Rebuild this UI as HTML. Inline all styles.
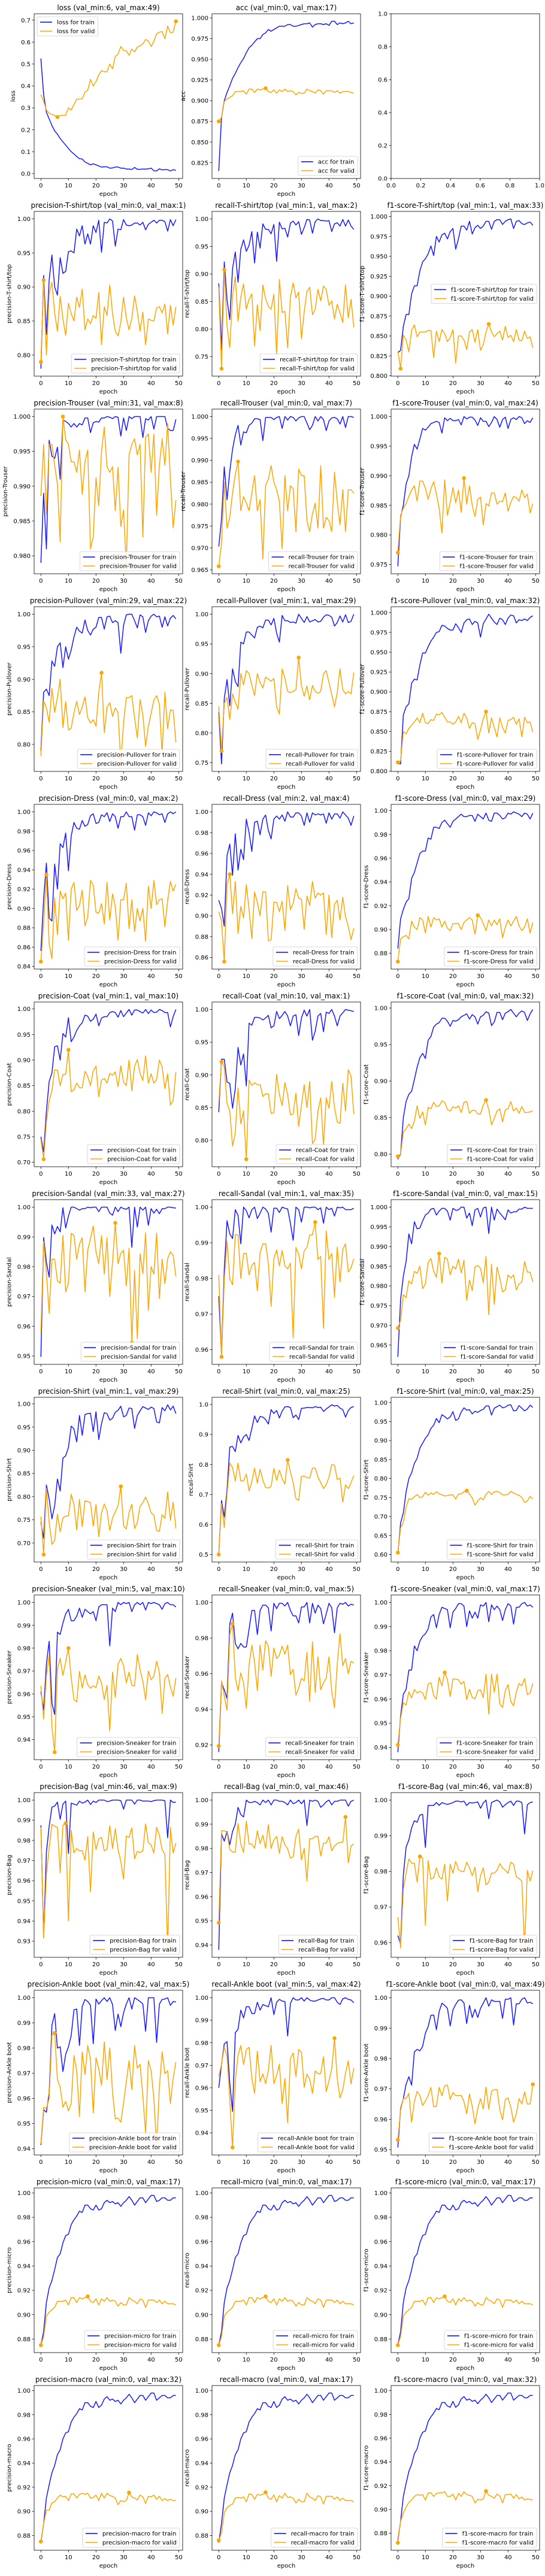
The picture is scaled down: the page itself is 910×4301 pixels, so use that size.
<!DOCTYPE html>
<html><head><meta charset="utf-8"><title>Training metrics</title>
<style>
html,body{margin:0;padding:0;background:#fff;}
svg{display:block;font-family:"DejaVu Sans","Liberation Sans",sans-serif;}
</style></head>
<body>
<svg id="fig" width="910" height="4301" viewBox="0 0 910 4301" xmlns="http://www.w3.org/2000/svg"></svg>
<script>
const epochsCount = 50;
const lossTrain=[0.525,0.36,0.28,0.25,0.22,0.195,0.18,0.16,0.145,0.13,0.115,0.1,0.09,0.078,0.068,0.067,0.053,0.047,0.04,0.045,0.04,0.035,0.03,0.031,0.031,0.025,0.026,0.03,0.03,0.025,0.025,0.021,0.021,0.019,0.028,0.02,0.02,0.021,0.021,0.022,0.025,0.013,0.012,0.022,0.017,0.018,0.018,0.012,0.018,0.015];
const lossValid=[0.36,0.33,0.29,0.275,0.27,0.265,0.258,0.265,0.266,0.266,0.3,0.29,0.315,0.34,0.34,0.342,0.372,0.38,0.43,0.4,0.42,0.45,0.47,0.465,0.465,0.5,0.478,0.535,0.545,0.58,0.562,0.56,0.54,0.568,0.555,0.578,0.582,0.592,0.612,0.605,0.58,0.603,0.638,0.645,0.648,0.615,0.673,0.643,0.645,0.695];
const accTrain=[0.815,0.88,0.9,0.91,0.918,0.927,0.933,0.94,0.946,0.951,0.958,0.964,0.967,0.971,0.975,0.975,0.98,0.982,0.986,0.984,0.986,0.988,0.99,0.99,0.99,0.992,0.992,0.99,0.99,0.991,0.992,0.993,0.993,0.994,0.989,0.992,0.993,0.993,0.992,0.993,0.991,0.996,0.996,0.992,0.994,0.993,0.994,0.996,0.993,0.994];
const accValid=[0.875,0.88,0.899,0.902,0.904,0.906,0.911,0.911,0.911,0.912,0.908,0.914,0.914,0.91,0.914,0.913,0.914,0.915,0.911,0.91,0.913,0.909,0.913,0.911,0.914,0.911,0.912,0.911,0.907,0.91,0.909,0.909,0.914,0.912,0.911,0.909,0.913,0.912,0.908,0.912,0.912,0.912,0.91,0.912,0.909,0.911,0.911,0.911,0.91,0.909];
const precTshirtTrain=[0.78,0.917,0.83,0.91,0.947,0.9,0.888,0.943,0.92,0.923,0.952,0.953,0.95,0.985,0.975,0.99,0.963,0.978,0.963,0.99,0.98,0.998,0.951,0.995,0.994,1.0,0.997,0.96,0.985,0.984,0.999,0.991,0.99,0.991,0.994,0.994,0.991,0.995,0.984,0.992,0.995,0.998,0.994,0.998,0.998,0.996,0.982,0.999,0.99,0.999];
const precTshirtValid=[0.79,0.91,0.8,0.89,0.907,0.862,0.835,0.886,0.853,0.829,0.876,0.861,0.85,0.885,0.87,0.897,0.837,0.853,0.846,0.858,0.854,0.892,0.815,0.871,0.858,0.903,0.861,0.835,0.828,0.848,0.885,0.855,0.837,0.854,0.887,0.864,0.835,0.863,0.815,0.853,0.851,0.85,0.869,0.871,0.862,0.875,0.831,0.873,0.844,0.871];
const recTshirtTrain=[0.883,0.762,0.922,0.853,0.817,0.91,0.94,0.885,0.945,0.962,0.941,0.952,0.977,0.92,0.976,0.947,0.991,0.981,0.981,0.973,0.99,0.923,0.994,0.982,0.983,0.967,0.992,0.996,0.989,0.995,0.972,0.984,0.999,0.998,0.974,0.995,1.0,0.997,0.997,0.996,0.997,0.977,0.991,0.993,0.987,0.999,0.987,0.998,0.987,0.981];
const recTshirtValid=[0.876,0.728,0.908,0.805,0.766,0.86,0.895,0.814,0.858,0.882,0.836,0.854,0.864,0.769,0.844,0.797,0.88,0.855,0.841,0.836,0.863,0.754,0.89,0.83,0.832,0.766,0.857,0.884,0.857,0.867,0.782,0.831,0.868,0.876,0.826,0.836,0.872,0.851,0.878,0.872,0.843,0.851,0.818,0.845,0.829,0.812,0.88,0.82,0.854,0.803];
const f1TshirtTrain=[0.829,0.832,0.862,0.877,0.877,0.903,0.913,0.913,0.932,0.943,0.947,0.953,0.963,0.951,0.975,0.968,0.977,0.979,0.972,0.981,0.985,0.959,0.972,0.988,0.988,0.983,0.994,0.978,0.986,0.989,0.985,0.988,0.994,0.994,0.984,0.994,0.996,0.996,0.99,0.994,0.996,0.997,0.985,0.994,0.995,0.991,0.99,0.992,0.993,0.989];
const f1TshirtValid=[0.831,0.809,0.851,0.845,0.83,0.857,0.864,0.849,0.855,0.855,0.855,0.857,0.857,0.823,0.856,0.843,0.858,0.853,0.843,0.848,0.858,0.816,0.85,0.85,0.845,0.833,0.855,0.858,0.842,0.858,0.832,0.839,0.855,0.865,0.855,0.849,0.853,0.856,0.845,0.862,0.848,0.851,0.843,0.858,0.845,0.844,0.856,0.847,0.849,0.835];
const precTrouserTrain=[0.979,0.989,0.981,0.9966,0.9943,0.994,0.9956,0.991,0.9995,0.9993,0.999,0.9985,0.999,0.9985,0.999,0.9988,0.9998,0.9998,0.9977,0.9991,0.9993,0.9992,0.9998,0.9998,1.0,0.9999,0.9997,1.0,0.9999,0.9972,0.9998,0.998,1.0,0.9997,1.0,1.0,1.0,0.997,0.9997,0.9995,1.0,0.9982,1.0,1.0,1.0,1.0,0.9983,0.998,0.998,0.9996];
const precTrouserValid=[0.9886,0.996,0.986,0.996,0.996,0.993,0.9903,0.982,1.0,0.9967,0.996,0.9935,0.9935,0.992,0.9952,0.9888,0.9935,0.9952,0.981,0.9827,0.9912,0.9872,0.995,0.9985,0.9928,0.992,0.9928,0.9865,0.9927,0.9842,0.9866,0.9785,0.9945,0.996,0.9968,0.9945,0.996,0.9827,0.997,0.9975,0.992,0.9975,0.9858,0.993,0.9968,0.993,0.999,0.991,0.984,0.988];
const recTrouserTrain=[0.9703,0.9765,0.9885,0.981,0.9875,0.9925,0.9958,0.998,0.9935,0.9965,0.9963,0.998,0.9985,0.9995,0.9995,0.9993,0.9945,0.9998,0.9998,0.9998,0.9993,0.9998,1.0,0.9973,1.0,0.9992,1.0,0.9998,0.999,0.9997,1.0,1.0,0.9985,0.997,0.998,1.0,0.999,1.0,0.9993,0.9968,0.999,0.9997,0.9998,0.9995,0.9983,1.0,0.9975,1.0,1.0,0.9998];
const recTrouserValid=[0.9658,0.971,0.985,0.9745,0.977,0.9825,0.9868,0.9897,0.9785,0.9817,0.9803,0.9785,0.9825,0.9865,0.9785,0.981,0.9675,0.9843,0.9857,0.9888,0.985,0.9833,0.9807,0.9698,0.9865,0.9785,0.9842,0.9835,0.9737,0.988,0.9865,0.9865,0.9762,0.9737,0.9778,0.9802,0.9745,0.9888,0.9745,0.977,0.9762,0.9737,0.9873,0.9805,0.9753,0.9833,0.9737,0.9833,0.9833,0.9825];
const f1TrouserTrain=[0.9747,0.983,0.985,0.9886,0.99,0.9932,0.9953,0.9945,0.9962,0.998,0.9977,0.9982,0.9988,0.999,0.9992,0.999,0.9972,0.9998,0.9993,0.9997,0.9993,0.9993,0.9995,0.9986,1.0,0.9996,0.9999,0.9999,0.9994,0.9985,0.9998,0.9992,0.9992,0.9983,0.999,1.0,0.9995,0.9982,0.9995,0.9999,0.998,0.9995,0.9998,0.9995,1.0,0.9998,0.9988,0.9993,0.999,0.9998];
const f1TrouserValid=[0.977,0.9833,0.9845,0.9853,0.9865,0.9876,0.9883,0.9857,0.9891,0.9891,0.9879,0.986,0.9878,0.989,0.9869,0.9845,0.9803,0.9893,0.9833,0.9855,0.988,0.9854,0.9876,0.9838,0.9896,0.9852,0.9883,0.985,0.9831,0.986,0.9864,0.9817,0.9853,0.9849,0.9871,0.9871,0.9852,0.9857,0.9856,0.9871,0.984,0.9855,0.9865,0.9863,0.9857,0.9876,0.9863,0.9869,0.9837,0.9853];
const precPulloverTrain=[0.79,0.88,0.885,0.875,0.928,0.92,0.95,0.956,0.918,0.95,0.931,0.945,0.965,0.98,0.974,0.971,0.991,0.975,0.968,0.977,0.98,0.995,0.995,0.977,0.996,0.997,0.987,0.99,0.987,0.94,0.983,0.999,1.0,1.0,0.99,0.979,0.999,0.996,0.972,0.99,0.997,1.0,0.996,0.997,0.98,0.996,0.982,0.994,0.998,0.993];
const precPulloverValid=[0.782,0.867,0.856,0.834,0.886,0.849,0.872,0.9,0.826,0.866,0.822,0.825,0.849,0.866,0.846,0.857,0.873,0.841,0.833,0.838,0.828,0.88,0.91,0.818,0.857,0.864,0.843,0.856,0.849,0.77,0.833,0.872,0.872,0.875,0.841,0.81,0.869,0.845,0.797,0.828,0.848,0.868,0.875,0.862,0.785,0.88,0.824,0.853,0.852,0.803];
const recPulloverTrain=[0.835,0.748,0.858,0.89,0.846,0.908,0.887,0.878,0.953,0.95,0.97,0.97,0.965,0.96,0.978,0.98,0.977,0.99,0.99,0.982,0.993,0.968,0.953,0.998,0.989,0.989,0.986,0.987,0.985,1.0,0.993,0.986,0.996,0.987,0.989,0.991,0.987,0.988,0.995,0.999,0.998,0.995,0.98,0.986,0.997,0.987,0.999,0.986,0.988,1.0];
const recPulloverValid=[0.845,0.77,0.85,0.86,0.823,0.866,0.852,0.84,0.9,0.881,0.905,0.9,0.881,0.863,0.9,0.885,0.876,0.894,0.891,0.887,0.892,0.844,0.832,0.908,0.892,0.87,0.868,0.87,0.873,0.927,0.88,0.862,0.879,0.856,0.88,0.87,0.867,0.87,0.9,0.905,0.885,0.865,0.844,0.868,0.908,0.873,0.866,0.87,0.866,0.902];
const f1PulloverTrain=[0.81,0.809,0.871,0.881,0.885,0.911,0.916,0.915,0.934,0.949,0.949,0.957,0.964,0.969,0.975,0.976,0.984,0.983,0.98,0.978,0.978,0.986,0.981,0.975,0.987,0.991,0.992,0.985,0.989,0.987,0.969,0.986,0.992,0.998,0.993,0.988,0.985,0.993,0.991,0.985,0.993,0.997,0.996,0.987,0.991,0.99,0.992,0.99,0.994,0.996];
const f1PulloverValid=[0.811,0.813,0.85,0.847,0.854,0.858,0.862,0.867,0.861,0.873,0.861,0.86,0.865,0.864,0.872,0.871,0.874,0.868,0.862,0.862,0.859,0.862,0.869,0.861,0.873,0.867,0.854,0.861,0.86,0.84,0.852,0.866,0.875,0.848,0.867,0.855,0.843,0.867,0.855,0.848,0.864,0.865,0.868,0.859,0.866,0.843,0.868,0.861,0.862,0.849];
const precDressTrain=[0.856,0.91,0.947,0.89,0.887,0.946,0.92,0.967,0.963,0.978,0.939,0.975,0.989,0.983,0.982,0.991,0.985,0.987,0.996,0.998,0.988,0.989,0.997,0.995,0.999,0.99,0.998,0.995,0.983,0.995,0.995,1.0,0.995,0.995,0.981,0.997,0.997,0.995,0.986,0.999,0.996,1.0,0.999,0.997,0.998,0.989,0.998,1.0,0.998,1.0];
const precDressValid=[0.845,0.885,0.935,0.863,0.848,0.911,0.873,0.918,0.91,0.916,0.867,0.92,0.927,0.898,0.903,0.919,0.882,0.891,0.929,0.924,0.896,0.895,0.905,0.884,0.927,0.888,0.915,0.902,0.867,0.909,0.909,0.926,0.879,0.909,0.876,0.9,0.887,0.9,0.866,0.923,0.9,0.929,0.904,0.909,0.91,0.881,0.908,0.928,0.918,0.925];
const recDressTrain=[0.915,0.907,0.89,0.958,0.969,0.939,0.979,0.944,0.964,0.954,0.993,0.98,0.962,0.99,0.991,0.978,0.993,0.997,0.982,0.974,0.993,0.996,0.993,0.997,0.991,1.0,0.995,0.995,0.999,0.999,0.996,0.987,0.999,0.99,0.999,0.997,0.998,0.997,0.998,0.989,0.999,0.993,0.998,0.998,0.994,1.0,0.997,0.994,0.987,0.996];
const recDressValid=[0.904,0.895,0.856,0.93,0.94,0.902,0.933,0.883,0.909,0.898,0.93,0.906,0.878,0.923,0.913,0.9,0.923,0.923,0.876,0.877,0.913,0.913,0.904,0.914,0.886,0.929,0.906,0.912,0.926,0.917,0.916,0.887,0.919,0.91,0.933,0.917,0.922,0.92,0.922,0.882,0.92,0.879,0.911,0.915,0.896,0.918,0.899,0.89,0.877,0.888];
const f1DressTrain=[0.884,0.909,0.917,0.923,0.926,0.943,0.948,0.956,0.964,0.966,0.966,0.977,0.976,0.986,0.986,0.985,0.99,0.992,0.989,0.986,0.991,0.993,0.995,0.997,0.995,0.995,0.996,0.996,0.991,0.997,0.995,0.993,0.998,0.992,0.991,0.998,0.998,0.996,0.993,0.994,0.998,0.997,0.999,0.998,0.997,0.995,0.998,0.997,0.993,0.998];
const f1DressValid=[0.873,0.892,0.894,0.895,0.892,0.907,0.902,0.9,0.91,0.908,0.897,0.911,0.902,0.91,0.908,0.909,0.902,0.907,0.901,0.899,0.905,0.905,0.905,0.9,0.906,0.908,0.91,0.908,0.896,0.912,0.91,0.905,0.899,0.908,0.903,0.908,0.904,0.909,0.893,0.902,0.908,0.903,0.907,0.911,0.903,0.899,0.902,0.909,0.897,0.906];
const precCoatTrain=[0.75,0.72,0.8,0.858,0.875,0.926,0.928,0.9,0.952,0.945,0.983,0.936,0.945,0.958,0.967,0.973,0.988,0.986,0.976,0.98,0.99,0.967,0.982,0.985,0.985,0.993,0.995,0.993,0.984,0.997,0.985,0.992,0.999,0.988,0.998,0.998,0.995,0.992,0.999,0.991,0.998,0.993,0.994,0.999,0.997,0.993,0.993,0.965,0.985,0.999];
const precCoatValid=[0.745,0.706,0.78,0.82,0.84,0.881,0.88,0.85,0.872,0.872,0.92,0.838,0.842,0.855,0.846,0.846,0.878,0.868,0.85,0.879,0.888,0.828,0.861,0.864,0.855,0.874,0.87,0.877,0.848,0.889,0.857,0.85,0.9,0.84,0.888,0.901,0.874,0.86,0.908,0.855,0.873,0.855,0.862,0.9,0.887,0.844,0.873,0.812,0.821,0.877];
const recCoatTrain=[0.843,0.924,0.924,0.889,0.887,0.849,0.879,0.942,0.915,0.932,0.883,0.979,0.976,0.988,0.988,0.987,0.984,0.987,0.991,0.972,0.975,0.997,0.986,0.991,0.997,0.99,0.975,0.99,0.992,0.96,0.987,0.999,0.99,1.0,0.953,0.967,0.99,0.994,0.966,0.996,0.994,1.0,0.99,0.975,0.99,0.995,1.0,0.999,0.998,0.997];
const recCoatValid=[0.857,0.92,0.912,0.856,0.845,0.791,0.811,0.88,0.825,0.845,0.771,0.892,0.884,0.888,0.885,0.885,0.867,0.871,0.871,0.841,0.842,0.901,0.87,0.853,0.888,0.87,0.839,0.84,0.872,0.821,0.853,0.885,0.85,0.89,0.795,0.802,0.845,0.865,0.792,0.865,0.849,0.89,0.85,0.828,0.826,0.887,0.845,0.908,0.898,0.84];
const f1CoatTrain=[0.793,0.8,0.85,0.872,0.882,0.886,0.902,0.919,0.932,0.938,0.931,0.956,0.961,0.974,0.978,0.98,0.986,0.986,0.982,0.975,0.983,0.982,0.984,0.988,0.99,0.992,0.985,0.991,0.988,0.978,0.988,0.99,0.995,0.993,0.976,0.981,0.994,0.994,0.984,0.993,0.995,0.998,0.993,0.988,0.993,0.996,0.994,0.983,0.992,0.998];
const f1CoatValid=[0.797,0.8,0.83,0.835,0.841,0.835,0.845,0.866,0.849,0.858,0.84,0.864,0.862,0.871,0.865,0.866,0.873,0.871,0.861,0.859,0.865,0.863,0.866,0.857,0.871,0.872,0.856,0.86,0.86,0.855,0.855,0.867,0.874,0.861,0.84,0.849,0.859,0.862,0.844,0.861,0.862,0.872,0.859,0.863,0.856,0.865,0.857,0.857,0.858,0.859];
const precSandalTrain=[0.9497,0.9898,0.9815,0.9765,0.994,0.991,0.9935,0.9917,0.9998,0.993,0.997,1.0,1.0,0.9995,0.999,0.9995,0.9995,1.0,0.9998,1.0,1.0,0.9985,1.0,1.0,1.0,0.998,0.9973,1.0,0.9985,1.0,0.9995,0.9993,1.0,0.9865,1.0,0.9933,1.0,0.999,1.0,0.9939,0.9995,0.998,0.9993,0.9978,0.9995,0.9995,1.0,1.0,0.9998,0.9997];
const precSandalValid=[0.958,0.9885,0.978,0.9643,0.9825,0.9825,0.9752,0.9745,0.9905,0.9715,0.9745,0.9912,0.9905,0.9825,0.9875,0.9897,0.9715,0.9855,0.9895,0.9937,0.985,0.981,0.9905,0.9775,0.9897,0.97,0.9815,0.9947,0.981,0.9845,0.9855,0.9735,0.9862,0.9545,0.9787,0.9558,0.9843,0.9777,0.9913,0.9653,0.98,0.9775,0.9913,0.9693,0.9825,0.9743,0.9827,0.985,0.9838,0.9767];
const recSandalTrain=[0.975,0.9585,0.9825,0.9962,0.9925,0.9912,0.9993,0.9977,0.9897,1.0,0.999,0.997,0.9993,1.0,0.9968,0.9983,1.0,0.9995,0.9983,0.993,0.9997,0.9997,0.9985,1.0,0.9997,0.9995,0.9955,0.9907,1.0,0.9993,0.9958,1.0,1.0,0.9998,1.0,1.0,0.9993,0.9998,0.9955,1.0,0.9993,0.9997,0.9975,1.0,0.9998,1.0,0.9993,0.9993,0.9993,0.9997];
const recSandalValid=[0.981,0.958,0.9795,0.9905,0.98,0.9782,0.9923,0.9922,0.98,0.987,0.987,0.981,0.9837,0.9845,0.9765,0.9873,0.9897,0.9897,0.9842,0.9722,0.9855,0.988,0.9835,0.9878,0.9835,0.9827,0.9843,0.9633,0.9887,0.9868,0.9827,0.9878,0.9887,0.9922,0.9922,0.9958,0.9853,0.9862,0.966,0.9933,0.9853,0.987,0.9747,0.9888,0.979,0.9882,0.9897,0.9818,0.983,0.9855];
const f1SandalTrain=[0.962,0.9765,0.9825,0.9862,0.9932,0.9907,0.9963,0.9945,0.9947,0.9965,0.998,0.9985,0.9995,0.9997,0.998,0.999,0.9997,0.9997,0.999,0.9967,0.9997,0.9992,0.9993,1.0,1.0,0.9972,0.9985,0.9953,0.9993,0.9997,0.9975,0.9998,1.0,0.9933,1.0,0.9967,0.9995,0.9985,0.9977,0.9968,0.9993,0.9985,0.9988,0.9988,0.9995,0.9995,1.0,0.9997,0.9997,0.9997];
const f1SandalValid=[0.9693,0.9713,0.9778,0.977,0.9813,0.9805,0.9837,0.9832,0.985,0.9793,0.9805,0.986,0.987,0.9837,0.9822,0.9882,0.9807,0.9873,0.9868,0.9828,0.985,0.9843,0.9868,0.9833,0.9865,0.9763,0.9815,0.9788,0.9848,0.9852,0.9845,0.9808,0.9875,0.9727,0.9855,0.9753,0.9848,0.982,0.9785,0.979,0.9828,0.982,0.9828,0.979,0.9805,0.981,0.9862,0.9835,0.9835,0.981];
const precShirtTrain=[0.745,0.71,0.825,0.795,0.752,0.78,0.838,0.812,0.883,0.888,0.906,0.952,0.946,0.918,0.975,0.932,0.977,0.979,0.98,0.94,0.983,0.923,0.957,0.981,0.979,0.965,0.969,0.982,0.986,0.995,0.972,0.975,0.991,0.99,0.947,0.975,0.985,0.994,0.991,0.988,0.993,0.99,0.961,0.959,0.992,0.985,0.998,0.987,0.995,0.979];
const precShirtValid=[0.757,0.675,0.818,0.745,0.697,0.705,0.762,0.724,0.754,0.758,0.758,0.805,0.783,0.728,0.794,0.735,0.791,0.789,0.787,0.736,0.783,0.713,0.765,0.784,0.769,0.727,0.754,0.767,0.78,0.822,0.737,0.73,0.766,0.783,0.731,0.744,0.779,0.787,0.799,0.785,0.765,0.76,0.727,0.725,0.761,0.753,0.81,0.749,0.788,0.731];
const recShirtTrain=[0.5,0.68,0.625,0.715,0.858,0.86,0.843,0.897,0.872,0.892,0.9,0.88,0.92,0.962,0.94,0.96,0.958,0.95,0.935,0.983,0.97,0.98,0.955,0.978,0.992,0.993,0.99,0.956,0.965,0.95,0.987,0.988,0.99,0.99,0.989,0.993,0.99,0.991,0.977,0.985,0.992,0.999,0.995,0.997,0.988,0.983,0.958,0.98,0.99,0.993];
const recShirtValid=[0.5,0.67,0.59,0.7,0.805,0.79,0.745,0.805,0.745,0.746,0.768,0.712,0.742,0.788,0.738,0.784,0.748,0.723,0.722,0.727,0.787,0.747,0.781,0.752,0.735,0.815,0.775,0.74,0.686,0.68,0.76,0.762,0.756,0.755,0.788,0.788,0.758,0.74,0.72,0.733,0.758,0.8,0.798,0.75,0.755,0.675,0.732,0.72,0.74,0.763];
const f1ShirtTrain=[0.6,0.683,0.71,0.765,0.8,0.815,0.84,0.853,0.88,0.893,0.906,0.915,0.932,0.94,0.958,0.947,0.968,0.963,0.957,0.962,0.976,0.953,0.957,0.975,0.986,0.98,0.981,0.97,0.977,0.974,0.979,0.982,0.991,0.991,0.967,0.985,0.989,0.993,0.986,0.988,0.993,0.994,0.978,0.979,0.992,0.985,0.978,0.983,0.993,0.987];
const f1ShirtValid=[0.605,0.67,0.685,0.725,0.747,0.745,0.752,0.758,0.75,0.752,0.764,0.756,0.762,0.758,0.765,0.76,0.757,0.754,0.755,0.757,0.757,0.746,0.759,0.76,0.765,0.768,0.759,0.749,0.73,0.741,0.749,0.744,0.758,0.766,0.758,0.765,0.766,0.763,0.757,0.757,0.758,0.766,0.762,0.758,0.756,0.75,0.737,0.741,0.753,0.746];
const precSneakerTrain=[0.961,0.953,0.973,0.983,0.956,0.951,0.987,0.986,0.991,0.995,0.997,0.992,0.992,0.994,0.9975,0.9935,0.997,0.996,0.995,0.996,0.992,0.998,0.999,0.999,0.999,0.981,0.9975,0.996,1.0,0.999,1.0,0.9995,1.0,0.996,0.999,1.0,0.999,1.0,0.9967,1.0,0.9995,1.0,0.9995,0.999,0.997,0.9995,1.0,0.999,0.999,0.998];
const precSneakerValid=[0.9635,0.949,0.968,0.977,0.9455,0.9345,0.971,0.9755,0.968,0.974,0.98,0.967,0.9575,0.9565,0.9698,0.9625,0.9683,0.964,0.9625,0.9635,0.9627,0.9677,0.9648,0.9575,0.9637,0.9438,0.9695,0.9585,0.973,0.9755,0.9722,0.9648,0.9695,0.9637,0.9635,0.9772,0.9705,0.9655,0.9575,0.97,0.9662,0.9678,0.9743,0.9695,0.9515,0.9668,0.9685,0.963,0.959,0.967];
const recSneakerTrain=[0.916,0.955,0.951,0.946,0.988,0.994,0.977,0.974,0.977,0.975,0.975,0.985,0.9955,0.9955,0.982,0.9955,0.9985,0.9985,0.997,0.984,0.9995,0.9965,0.9995,0.9995,0.998,1.0,0.9955,0.9925,0.9925,0.9885,0.9975,0.9975,1.0,0.9885,0.9995,0.994,0.9985,0.9965,0.988,0.9935,0.9995,0.997,0.983,0.997,0.9995,0.999,1.0,0.998,0.999,0.9985];
const recSneakerValid=[0.9195,0.956,0.9475,0.9395,0.982,0.988,0.958,0.9505,0.9605,0.955,0.9405,0.965,0.976,0.9665,0.9505,0.976,0.962,0.9785,0.9755,0.9585,0.9745,0.9685,0.9705,0.9755,0.971,0.976,0.9595,0.9625,0.948,0.952,0.9575,0.956,0.972,0.9445,0.978,0.9495,0.9695,0.951,0.955,0.9575,0.9695,0.95,0.941,0.9655,0.9825,0.9645,0.9685,0.96,0.967,0.966];
const f1SneakerTrain=[0.938,0.953,0.962,0.964,0.972,0.972,0.982,0.98,0.984,0.986,0.987,0.989,0.994,0.995,0.9895,0.995,0.998,0.9975,0.997,0.9895,0.996,0.9975,0.9995,0.9995,0.9985,0.99,0.9965,0.9935,0.996,0.9935,0.999,0.9985,1.0,0.992,0.999,0.997,0.9985,0.997,0.9925,0.997,0.9995,0.9985,0.991,0.998,0.998,0.9995,1.0,0.9985,0.999,0.998];
const f1SneakerValid=[0.941,0.952,0.9585,0.9575,0.963,0.9605,0.964,0.9625,0.9632,0.9625,0.9598,0.9662,0.9668,0.9615,0.96,0.969,0.9655,0.971,0.968,0.961,0.9683,0.9683,0.968,0.9662,0.9673,0.9598,0.964,0.9607,0.96,0.9635,0.9638,0.9605,0.9703,0.9538,0.9703,0.9628,0.9703,0.958,0.9565,0.9635,0.966,0.959,0.9572,0.963,0.9665,0.9655,0.9685,0.9618,0.9625,0.9665];
const precBagTrain=[0.9875,0.932,0.974,0.987,0.9965,0.997,0.999,0.9905,0.998,0.9995,0.9735,0.9985,0.998,0.9975,0.9995,0.9985,0.999,1.0,0.9978,0.9995,0.9988,1.0,1.0,1.0,0.9993,0.9995,1.0,1.0,1.0,0.9997,0.9955,1.0,1.0,1.0,0.998,1.0,1.0,0.9995,0.9995,0.9995,0.9993,0.9997,1.0,1.0,1.0,0.9997,0.9813,1.0,0.9988,0.999];
const precBagValid=[0.9865,0.9315,0.963,0.9765,0.988,0.987,0.9865,0.964,0.9875,0.9885,0.94,0.985,0.9738,0.976,0.9748,0.975,0.9702,0.9818,0.9543,0.9842,0.9755,0.9808,0.9815,0.9748,0.9757,0.9873,0.976,0.9858,0.9755,0.9695,0.9608,0.9822,0.9815,0.9862,0.9708,0.9745,0.974,0.9748,0.9882,0.9788,0.9778,0.9737,0.9865,0.9825,0.9755,0.973,0.9257,0.9865,0.9737,0.9787];
const recBagTrain=[0.938,0.986,0.983,0.987,0.9815,0.987,0.99,0.997,0.994,0.993,1.0,0.999,0.999,0.9995,0.999,0.998,1.0,0.999,1.0,0.998,1.0,1.0,0.9995,0.9995,0.999,0.998,1.0,0.9985,0.999,1.0,0.9985,1.0,0.9895,1.0,0.9995,1.0,0.9995,0.997,0.998,0.9993,1.0,0.998,0.9995,0.9995,1.0,1.0,1.0,0.9975,0.9995,1.0];
const recBagValid=[0.9492,0.9873,0.9873,0.9865,0.9795,0.9785,0.9785,0.9903,0.9818,0.9783,0.9912,0.9818,0.9818,0.98,0.9873,0.982,0.9855,0.98,0.9898,0.98,0.9835,0.985,0.978,0.9848,0.9815,0.9798,0.976,0.9765,0.985,0.988,0.9752,0.98,0.9665,0.984,0.984,0.985,0.985,0.9768,0.9822,0.9822,0.9848,0.979,0.981,0.982,0.9825,0.9825,0.993,0.974,0.981,0.9818];
const f1BagTrain=[0.962,0.9595,0.979,0.9868,0.9888,0.9922,0.9942,0.9938,0.9958,0.996,0.9867,0.9985,0.9985,0.9985,0.9993,0.9985,0.9993,0.999,0.9988,0.999,0.9993,0.9997,0.9997,0.9995,0.9997,0.9985,0.9993,0.9992,0.9993,0.9995,0.9977,0.9992,1.0,0.9948,0.9993,0.9997,1.0,0.9995,0.998,0.9987,0.9993,0.9997,0.9985,0.9997,0.9997,0.9993,0.9905,0.9987,0.9993,0.9995];
const f1BagValid=[0.9672,0.9585,0.975,0.9795,0.9835,0.9823,0.9823,0.977,0.9842,0.9838,0.9648,0.983,0.9778,0.9782,0.981,0.9785,0.9778,0.982,0.9717,0.982,0.9795,0.9828,0.9805,0.98,0.98,0.9826,0.981,0.9788,0.9812,0.9743,0.9788,0.981,0.9762,0.977,0.9795,0.9795,0.9803,0.9822,0.981,0.9803,0.9795,0.9826,0.982,0.9785,0.978,0.9773,0.958,0.9803,0.9773,0.9802];
const precAnkleTrain=[0.9415,0.9555,0.9545,0.962,0.989,0.9937,0.98,0.9805,0.9707,0.9775,0.9805,0.985,0.9952,0.9955,0.981,0.9965,0.9993,0.9985,0.997,0.9817,0.9995,0.9975,0.9988,1.0,0.9985,1.0,0.9973,0.987,0.9935,0.9885,0.994,0.9975,1.0,0.9955,1.0,0.9993,0.9985,0.9975,0.9867,1.0,1.0,1.0,0.9822,0.9975,0.9993,0.9995,1.0,0.997,0.9985,0.9983];
const precAnkleValid=[0.942,0.9565,0.956,0.96,0.985,0.986,0.9675,0.9645,0.9565,0.9588,0.955,0.958,0.977,0.971,0.9528,0.9785,0.9695,0.981,0.9755,0.9542,0.9762,0.9718,0.9652,0.9825,0.9675,0.98,0.9625,0.9518,0.9522,0.9505,0.9582,0.9665,0.975,0.9635,0.981,0.972,0.9735,0.961,0.946,0.975,0.971,0.96,0.9405,0.9645,0.9785,0.9698,0.971,0.958,0.968,0.9745];
const recAnkleTrain=[0.96,0.9705,0.9795,0.9805,0.962,0.9495,0.9845,0.986,0.9945,0.991,0.996,0.996,0.993,0.993,0.998,0.9945,0.997,0.9965,0.996,1.0,0.9925,0.998,0.9993,0.9985,0.9983,0.983,0.9975,1.0,0.999,0.999,1.0,0.9985,1.0,0.999,0.9985,0.9985,0.999,0.9995,0.9997,0.999,0.999,1.0,1.0,0.998,0.997,0.9995,1.0,0.9993,0.999,0.9978];
const recAnkleValid=[0.965,0.9705,0.978,0.974,0.9545,0.9335,0.9635,0.9745,0.9788,0.9703,0.977,0.978,0.9643,0.9575,0.9763,0.9627,0.9662,0.9618,0.9678,0.9788,0.9618,0.9655,0.9705,0.953,0.9642,0.9445,0.973,0.9755,0.965,0.977,0.9758,0.9602,0.966,0.9638,0.9575,0.9675,0.9663,0.9663,0.9738,0.9583,0.963,0.9685,0.982,0.964,0.9555,0.959,0.9665,0.972,0.9617,0.9688];
const f1AnkleTrain=[0.9507,0.9635,0.9668,0.9715,0.974,0.9712,0.9822,0.983,0.9825,0.984,0.9883,0.9905,0.9942,0.9943,0.9895,0.9955,0.9982,0.9975,0.9965,0.9907,0.996,0.9978,0.9992,0.9993,0.9983,0.9915,0.9975,0.9935,0.9962,0.9935,0.9965,0.9982,1.0,0.9972,0.9993,0.9988,0.9988,0.9988,0.9932,0.9995,0.9995,1.0,0.991,0.998,0.998,0.9995,1.0,0.9983,0.9985,0.998];
const f1AnkleValid=[0.9532,0.963,0.9668,0.9668,0.9685,0.959,0.9658,0.9692,0.9678,0.9645,0.966,0.9678,0.9705,0.9641,0.9642,0.9705,0.9677,0.971,0.9713,0.9665,0.9688,0.9678,0.9678,0.9678,0.9658,0.9618,0.9683,0.9642,0.9585,0.9635,0.9668,0.9633,0.9706,0.9633,0.9692,0.9698,0.9698,0.9632,0.9598,0.9665,0.967,0.964,0.959,0.9618,0.9668,0.965,0.969,0.965,0.965,0.9715];
const microTrain=[0.875,0.886,0.91,0.922,0.928,0.937,0.947,0.95,0.959,0.965,0.966,0.974,0.978,0.981,0.985,0.984,0.99,0.99,0.987,0.986,0.99,0.986,0.987,0.992,0.994,0.992,0.993,0.991,0.992,0.989,0.992,0.994,0.997,0.994,0.99,0.993,0.996,0.996,0.992,0.995,0.998,0.998,0.993,0.994,0.996,0.996,0.994,0.994,0.996,0.996];
const microValid=[0.875,0.882,0.899,0.902,0.904,0.906,0.911,0.911,0.911,0.912,0.908,0.914,0.914,0.91,0.914,0.913,0.914,0.915,0.911,0.91,0.913,0.908,0.913,0.911,0.914,0.911,0.912,0.911,0.907,0.91,0.908,0.908,0.914,0.912,0.911,0.909,0.913,0.912,0.906,0.912,0.912,0.912,0.91,0.912,0.909,0.911,0.909,0.909,0.909,0.908];
const macroTrain=[0.874,0.89,0.911,0.922,0.932,0.938,0.947,0.951,0.96,0.965,0.966,0.974,0.978,0.981,0.985,0.984,0.99,0.99,0.987,0.986,0.991,0.986,0.988,0.993,0.995,0.992,0.993,0.991,0.992,0.989,0.992,0.994,0.997,0.994,0.99,0.993,0.996,0.996,0.992,0.995,0.998,0.998,0.992,0.994,0.996,0.996,0.994,0.994,0.996,0.996];
const precMacroValid=[0.875,0.89,0.901,0.901,0.907,0.908,0.911,0.9135,0.912,0.9125,0.909,0.9145,0.9145,0.911,0.914,0.915,0.914,0.915,0.911,0.9115,0.9135,0.909,0.915,0.911,0.915,0.913,0.9125,0.911,0.9055,0.909,0.908,0.909,0.9155,0.912,0.911,0.9095,0.9135,0.912,0.9065,0.9125,0.912,0.9135,0.91,0.9125,0.909,0.9105,0.909,0.91,0.909,0.909];
const recMacroValid=[0.876,0.882,0.899,0.903,0.905,0.906,0.911,0.9115,0.911,0.912,0.908,0.9145,0.914,0.91,0.914,0.9135,0.914,0.9158,0.911,0.91,0.9135,0.908,0.913,0.911,0.915,0.9115,0.912,0.911,0.907,0.91,0.908,0.908,0.915,0.912,0.911,0.909,0.913,0.912,0.906,0.9125,0.9125,0.9125,0.91,0.912,0.909,0.911,0.909,0.909,0.909,0.908];
const f1MacroValid=[0.872,0.89,0.897,0.902,0.906,0.908,0.911,0.9125,0.912,0.9125,0.908,0.914,0.914,0.911,0.9135,0.914,0.914,0.915,0.911,0.911,0.913,0.908,0.9135,0.911,0.915,0.9125,0.912,0.911,0.9055,0.9085,0.908,0.909,0.9155,0.912,0.911,0.9095,0.913,0.9115,0.9055,0.9125,0.9125,0.913,0.9095,0.9125,0.909,0.9105,0.908,0.909,0.9085,0.908];

const charts = [
  {metric:'loss', train:lossTrain, valid:lossValid, legend:'ul'},
  {metric:'acc', train:accTrain, valid:accValid, legend:'lr'},
  null,
  {metric:'precision-T-shirt/top', train:precTshirtTrain, valid:precTshirtValid, legend:'lr'},
  {metric:'recall-T-shirt/top', train:recTshirtTrain, valid:recTshirtValid, legend:'lr'},
  {metric:'f1-score-T-shirt/top', train:f1TshirtTrain, valid:f1TshirtValid, legend:'cr'},
  {metric:'precision-Trouser', train:precTrouserTrain, valid:precTrouserValid, legend:'lr'},
  {metric:'recall-Trouser', train:recTrouserTrain, valid:recTrouserValid, legend:'lr'},
  {metric:'f1-score-Trouser', train:f1TrouserTrain, valid:f1TrouserValid, legend:'lr'},
  {metric:'precision-Pullover', train:precPulloverTrain, valid:precPulloverValid, legend:'lr'},
  {metric:'recall-Pullover', train:recPulloverTrain, valid:recPulloverValid, legend:'lr'},
  {metric:'f1-score-Pullover', train:f1PulloverTrain, valid:f1PulloverValid, legend:'lr'},
  {metric:'precision-Dress', train:precDressTrain, valid:precDressValid, legend:'lr'},
  {metric:'recall-Dress', train:recDressTrain, valid:recDressValid, legend:'lr'},
  {metric:'f1-score-Dress', train:f1DressTrain, valid:f1DressValid, legend:'lr'},
  {metric:'precision-Coat', train:precCoatTrain, valid:precCoatValid, legend:'lr'},
  {metric:'recall-Coat', train:recCoatTrain, valid:recCoatValid, legend:'lr'},
  {metric:'f1-score-Coat', train:f1CoatTrain, valid:f1CoatValid, legend:'lr'},
  {metric:'precision-Sandal', train:precSandalTrain, valid:precSandalValid, legend:'lr'},
  {metric:'recall-Sandal', train:recSandalTrain, valid:recSandalValid, legend:'lr'},
  {metric:'f1-score-Sandal', train:f1SandalTrain, valid:f1SandalValid, legend:'lr'},
  {metric:'precision-Shirt', train:precShirtTrain, valid:precShirtValid, legend:'lr'},
  {metric:'recall-Shirt', train:recShirtTrain, valid:recShirtValid, legend:'lr'},
  {metric:'f1-score-Shirt', train:f1ShirtTrain, valid:f1ShirtValid, legend:'lr'},
  {metric:'precision-Sneaker', train:precSneakerTrain, valid:precSneakerValid, legend:'lr'},
  {metric:'recall-Sneaker', train:recSneakerTrain, valid:recSneakerValid, legend:'lr'},
  {metric:'f1-score-Sneaker', train:f1SneakerTrain, valid:f1SneakerValid, legend:'lr'},
  {metric:'precision-Bag', train:precBagTrain, valid:precBagValid, legend:'lr'},
  {metric:'recall-Bag', train:recBagTrain, valid:recBagValid, legend:'lr'},
  {metric:'f1-score-Bag', train:f1BagTrain, valid:f1BagValid, legend:'lr'},
  {metric:'precision-Ankle boot', train:precAnkleTrain, valid:precAnkleValid, legend:'lr'},
  {metric:'recall-Ankle boot', train:recAnkleTrain, valid:recAnkleValid, legend:'lr'},
  {metric:'f1-score-Ankle boot', train:f1AnkleTrain, valid:f1AnkleValid, legend:'lr'},
  {metric:'precision-micro', train:microTrain, valid:microValid, legend:'lr'},
  {metric:'recall-micro', train:microTrain, valid:microValid, legend:'lr'},
  {metric:'f1-score-micro', train:microTrain, valid:microValid, legend:'lr'},
  {metric:'precision-macro', train:macroTrain, valid:precMacroValid, legend:'lr'},
  {metric:'recall-macro', train:macroTrain, valid:recMacroValid, legend:'lr'},
  {metric:'f1-score-macro', train:macroTrain, valid:f1MacroValid, legend:'lr'}
];
const xTickValues = [0,10,20,30,40,50];
const emptyTickValues = [0,0.2,0.4,0.6,0.8,1.0];

const NS='http://www.w3.org/2000/svg';
const svg=document.getElementById('fig');
const COL_LEFT=[57,354,653], AX_W=248, AX_H=275, ROW_PITCH=330, ROW_TOP=23;
const BLUE='#0000ff', ORANGE='#ffa500';

function el(tag, attrs, parent){
  const e=document.createElementNS(NS,tag);
  for(const k in attrs) e.setAttribute(k, attrs[k]);
  (parent||svg).appendChild(e);
  return e;
}
function txt(str, attrs, parent){
  const t=el('text', attrs, parent);
  t.textContent=str;
  return t;
}
function niceStep(range){
  const raw=range/9;
  const scale=Math.pow(10, Math.floor(Math.log10(raw)));
  for(const s of [1,2,2.5,5,10]){ if(s*scale>=raw-1e-12) return s*scale; }
  return 10*scale;
}
function decimalsOf(step){
  for(let d=0; d<8; d++){ if(Math.abs(Math.round(step*Math.pow(10,d))-step*Math.pow(10,d))<1e-9) return d; }
  return 6;
}
function argmin(a){let k=0;for(let i=1;i<a.length;i++) if(a[i]<a[k]) k=i;return k;}
function argmax(a){let k=0;for(let i=1;i<a.length;i++) if(a[i]>a[k]) k=i;return k;}

function drawAxesFrame(g, L, T, name){
  const r=el('rect',{x:L,y:T,width:AX_W,height:AX_H,fill:'none',stroke:'#000','stroke-width':0.8},g);
  
  
}

function drawChart(c, idx){
  const row=Math.floor(idx/3), col=idx%3;
  const L=COL_LEFT[col], T=ROW_TOP+row*ROW_PITCH, B=T+AX_H, R=L+AX_W;
  const slug=c.metric.toLowerCase().replace(/[^a-z0-9]+/g,'-').replace(/-+$/,'');
  const g=el('g',{});
  
  

  const n=c.train.length;
  const xmin=-0.05*(n-1), xmax=(n-1)*1.05;
  const xs=v=>L+(v-xmin)/(xmax-xmin)*AX_W;
  const all=c.train.concat(c.valid);
  const lo=Math.min(...all), hi=Math.max(...all);
  const pad=0.05*(hi-lo||1);
  const ymin=lo-pad, ymax=hi+pad;
  const ys=v=>B-(v-ymin)/(ymax-ymin)*AX_H;

  const vmin=argmin(c.valid), vmax=argmax(c.valid);
  const title=txt(c.metric+' (val_min:'+vmin+', val_max:'+vmax+')',{x:(L+R)/2,y:T-6,'text-anchor':'middle','font-size':12,fill:'#000'},g);
  
  

  // x ticks
  for(const v of xTickValues){
    if(v<xmin||v>xmax) continue;
    const x=xs(v);
    const tk=el('line',{x1:x,y1:B,x2:x,y2:B+3.5,stroke:'#000','stroke-width':0.8},g);
    
    
    const tl=txt(String(v),{x:x,y:B+15,'text-anchor':'middle','font-size':10,fill:'#000'},g);
    
    
  }
  const xl=txt('epoch',{x:(L+R)/2,y:B+29,'text-anchor':'middle','font-size':10,fill:'#000'},g);
  
  

  // y ticks
  const step=niceStep(ymax-ymin);
  const dec=decimalsOf(step);
  let maxW=0;
  for(let k=Math.ceil(ymin/step-1e-9); k*step<=ymax+1e-12; k++){
    const v=k*step, y=ys(v);
    const tk=el('line',{x1:L-3.5,y1:y,x2:L,y2:y,stroke:'#000','stroke-width':0.8},g);
    
    
    const label=v.toFixed(dec);
    const tl=txt(label,{x:L-6,y:y+3.6,'text-anchor':'end','font-size':10,fill:'#000'},g);
    
    
    maxW=Math.max(maxW, label.length*6.36);
  }
  const ylx=L-6-maxW-7;
  const yl=txt(c.metric,{x:ylx,y:(T+B)/2,'text-anchor':'middle','font-size':10,fill:'#000',transform:'rotate(-90 '+ylx+' '+((T+B)/2)+')'},g);
  
  

  // series
  const trainPts=c.train.map((v,i)=>xs(i).toFixed(2)+','+ys(v).toFixed(2)).join(' ');
  const validPts=c.valid.map((v,i)=>xs(i).toFixed(2)+','+ys(v).toFixed(2)).join(' ');
  const lt=el('polyline',{points:trainPts,fill:'none',stroke:BLUE,'stroke-width':1.5,'stroke-linejoin':'round','stroke-opacity':0.9},g);
  
  
  const lv=el('polyline',{points:validPts,fill:'none',stroke:ORANGE,'stroke-width':1.5,'stroke-linejoin':'round'},g);
  
  
  const dmin=el('circle',{cx:xs(vmin),cy:ys(c.valid[vmin]),r:3.3,fill:ORANGE},g);
  
  
  const dmax=el('circle',{cx:xs(vmax),cy:ys(c.valid[vmax]),r:3.3,fill:ORANGE},g);
  
  

  drawAxesFrame(g, L, T, slug);

  // legend
  const lg=el('g',{},g);
  
  
  const box=el('rect',{rx:2,ry:2,fill:'#fff','fill-opacity':0.85,stroke:'#cccccc','stroke-width':0.8},lg);
  const t1=txt(c.metric+' for train',{'font-size':10,fill:'#000'},lg);
  const t2=txt(c.metric+' for valid',{'font-size':10,fill:'#000'},lg);
  
  
  
  
  let tw=Math.max(t1.getComputedTextLength(), t2.getComputedTextLength());
  if(!tw) tw=(c.metric.length+10)*6;
  const bw=5+20+8+tw+5, bh=32;
  let bx, by;
  if(c.legend==='ul'){ bx=L+5; by=T+5; }
  else if(c.legend==='cr'){ bx=R-5-bw; by=(T+B)/2-bh/2; }
  else { bx=R-5-bw; by=B-5-bh; }
  box.setAttribute('x',bx); box.setAttribute('y',by);
  box.setAttribute('width',bw); box.setAttribute('height',bh);
  const l1=el('line',{x1:bx+5,x2:bx+25,y1:by+9,y2:by+9,stroke:BLUE,'stroke-width':1.5},lg);
  const l2=el('line',{x1:bx+5,x2:bx+25,y1:by+24,y2:by+24,stroke:ORANGE,'stroke-width':1.5},lg);
  
  
  
  
  t1.setAttribute('x',bx+33); t1.setAttribute('y',by+12.5);
  t2.setAttribute('x',bx+33); t2.setAttribute('y',by+27.5);
}

function drawEmpty(idx){
  const row=Math.floor(idx/3), col=idx%3;
  const L=COL_LEFT[col], T=ROW_TOP+row*ROW_PITCH, B=T+AX_H;
  const g=el('g',{});
  
  
  for(const v of emptyTickValues){
    const x=L+v*AX_W, y=B-v*AX_H;
    const a=el('line',{x1:x,y1:B,x2:x,y2:B+3.5,stroke:'#000','stroke-width':0.8},g);
    
    
    const at=txt(v.toFixed(1),{x:x,y:B+15,'text-anchor':'middle','font-size':10,fill:'#000'},g);
    
    
    const b=el('line',{x1:L-3.5,y1:y,x2:L,y2:y,stroke:'#000','stroke-width':0.8},g);
    
    
    const bt=txt(v.toFixed(1),{x:L-6,y:y+3.6,'text-anchor':'end','font-size':10,fill:'#000'},g);
    
    
  }
  drawAxesFrame(g, L, T, 'empty');
}

charts.forEach((c,i)=>{ if(c) drawChart(c,i); else drawEmpty(i); });
</script>
</body></html>
